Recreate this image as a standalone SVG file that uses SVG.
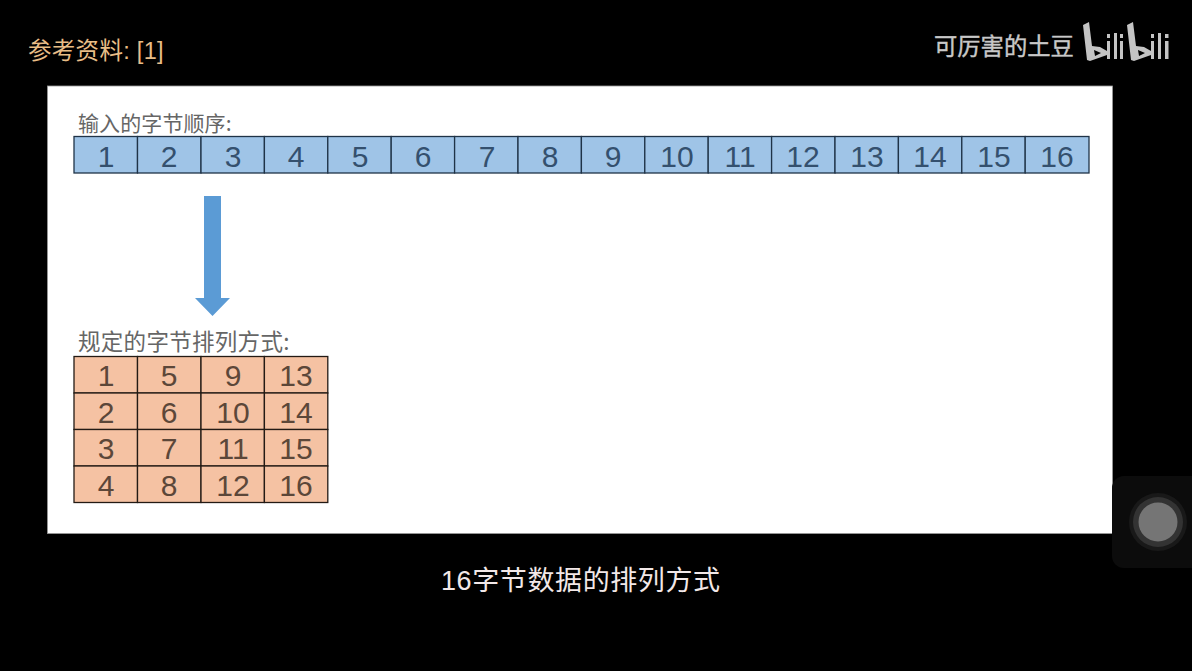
<svg xmlns="http://www.w3.org/2000/svg" width="1192" height="671" viewBox="0 0 1192 671">
<style>
text{font-family:"Liberation Sans","Noto Sans CJK SC",sans-serif}
.c{fill:#9fc4e7;stroke:#1f3347;stroke-width:1.3}
.d{fill:#f5c2a3;stroke:#231a14;stroke-width:1.3}
.n{font-size:30px;text-anchor:middle}
.b{fill:#34506e}
.o{fill:#5c4739}
.l{fill:#666;font-family:"Noto Sans CJK SC",sans-serif}
</style>
<rect width="1192" height="671" fill="#000"/>
<rect id="slide" x="47.500" y="86" width="1065" height="447.500" fill="#fff" stroke="#999" stroke-width="0.800"/>
<text id="ref" x="28" y="59" font-size="23.500" letter-spacing="0.3" fill="#e8bd87">参考资料: [1]</text>
<text id="author" x="934" y="55" font-size="23.300" fill="#c8c8c8" stroke="#c8c8c8" stroke-width="0.400" style="font-family:'Noto Sans CJK SC',sans-serif">可厉害的土豆</text>
<g id="logo" fill="#c4c4c4">
<path id="logo-b" fill-rule="evenodd" d="M1083 25L1089 22L1092 46L1100 47L1107 51L1107 55L1090 61L1087 60ZM1094 50L1095 56L1101 53Z"/>
<path d="M1107 41h3v18h-3zM1107 34h3v4h-3zM1114 33h3v26h-3zM1120 41h3v18h-3zM1120 34h3v4h-3z"/>
<use href="#logo-b" x="44"/>
<path d="M1151 41h3v18h-3zM1151 34h3v4h-3zM1158 33h3v26h-3zM1165 41h3.500v18h-3.500zM1165 34h3.500v4h-3.500z"/>
</g>
<text id="label-input" class="l" x="78" y="131" font-size="21" letter-spacing="0.1">输入的字节顺序:</text>
<g id="input-row">
<rect class="c" x="74" y="136.500" width="63.500" height="36.500"/><rect class="c" x="137.500" y="136.500" width="63.500" height="36.500"/><rect class="c" x="201" y="136.500" width="63.400" height="36.500"/><rect class="c" x="264.400" y="136.500" width="63.400" height="36.500"/><rect class="c" x="327.800" y="136.500" width="63.400" height="36.500"/><rect class="c" x="391.200" y="136.500" width="63.400" height="36.500"/><rect class="c" x="454.600" y="136.500" width="63.400" height="36.500"/><rect class="c" x="518" y="136.500" width="63.400" height="36.500"/><rect class="c" x="581.400" y="136.500" width="63.400" height="36.500"/><rect class="c" x="644.800" y="136.500" width="63.400" height="36.500"/><rect class="c" x="708.200" y="136.500" width="63.400" height="36.500"/><rect class="c" x="771.600" y="136.500" width="63.400" height="36.500"/><rect class="c" x="835" y="136.500" width="63.400" height="36.500"/><rect class="c" x="898.400" y="136.500" width="63.400" height="36.500"/><rect class="c" x="961.800" y="136.500" width="63.400" height="36.500"/><rect class="c" x="1025.200" y="136.500" width="63.800" height="36.500"/>
<g class="n b">
<text x="106" y="167">1</text><text x="169" y="167">2</text><text x="233" y="167">3</text><text x="296" y="167">4</text><text x="360" y="167">5</text><text x="423" y="167">6</text><text x="487" y="167">7</text><text x="550" y="167">8</text><text x="613" y="167">9</text><text x="677" y="167">10</text><text x="740" y="167">11</text><text x="803" y="167">12</text><text x="867" y="167">13</text><text x="930" y="167">14</text><text x="994" y="167">15</text><text x="1057" y="167">16</text>
</g>
</g>
<g id="connectors"><path id="arrow" d="M204 196H221V298H230L212.500 316L195 298H204Z" fill="#5b9bd5"/></g>
<text id="label-layout" class="l" x="78" y="350" font-size="22.500" letter-spacing="0.300">规定的字节排列方式:</text>
<g id="layout-grid">
<rect class="d" x="74" y="356.500" width="63.500" height="36.500"/><rect class="d" x="137.500" y="356.500" width="63.500" height="36.500"/><rect class="d" x="201" y="356.500" width="63.400" height="36.500"/><rect class="d" x="264.400" y="356.500" width="63.400" height="36.500"/>
<rect class="d" x="74" y="393" width="63.500" height="36.500"/><rect class="d" x="137.500" y="393" width="63.500" height="36.500"/><rect class="d" x="201" y="393" width="63.400" height="36.500"/><rect class="d" x="264.400" y="393" width="63.400" height="36.500"/>
<rect class="d" x="74" y="429.500" width="63.500" height="36.500"/><rect class="d" x="137.500" y="429.500" width="63.500" height="36.500"/><rect class="d" x="201" y="429.500" width="63.400" height="36.500"/><rect class="d" x="264.400" y="429.500" width="63.400" height="36.500"/>
<rect class="d" x="74" y="466" width="63.500" height="36.500"/><rect class="d" x="137.500" y="466" width="63.500" height="36.500"/><rect class="d" x="201" y="466" width="63.400" height="36.500"/><rect class="d" x="264.400" y="466" width="63.400" height="36.500"/>
<g class="n o">
<text x="106" y="386">1</text><text x="169" y="386">5</text><text x="233" y="386">9</text><text x="296" y="386">13</text>
<text x="106" y="423">2</text><text x="169" y="423">6</text><text x="233" y="423">10</text><text x="296" y="423">14</text>
<text x="106" y="459">3</text><text x="169" y="459">7</text><text x="233" y="459">11</text><text x="296" y="459">15</text>
<text x="106" y="496">4</text><text x="169" y="496">8</text><text x="233" y="496">12</text><text x="296" y="496">16</text>
</g>
</g>
<text id="caption" x="441" y="590" font-size="27" fill="#f2e8e8" letter-spacing="0.600">16字节数据的排列方式</text>
<g id="float-button">
<rect x="1112" y="476" width="100" height="92" rx="12" fill="#0c0c0c"/>
<circle cx="1158" cy="522" r="29" fill="#191919"/>
<circle cx="1158" cy="522" r="25" fill="#333"/>
<circle cx="1158" cy="522" r="19.500" fill="#757575"/>
</g>
</svg>
